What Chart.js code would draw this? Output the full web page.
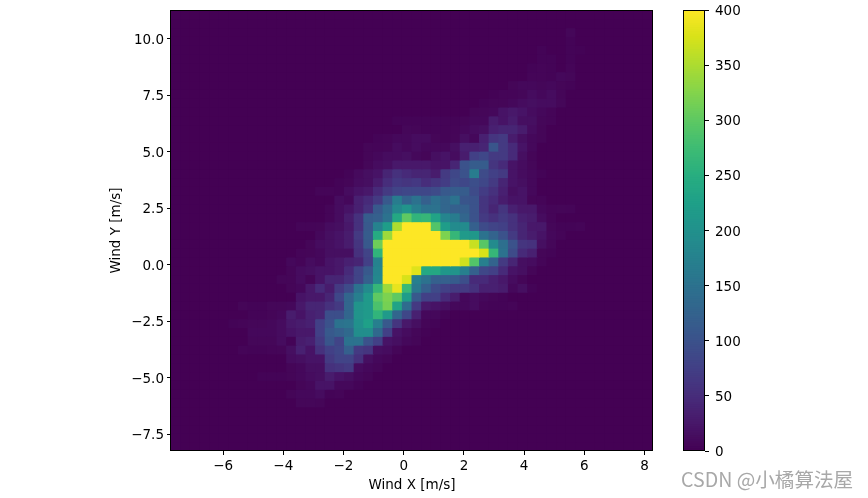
<!DOCTYPE html>
<html>
<head>
<meta charset="utf-8">
<script src="https://cdn.jsdelivr.net/npm/chart.js@4/dist/chart.umd.js"></script>
<style>
html,body{margin:0;padding:0;background:#fff;width:868px;height:498px;overflow:hidden}
canvas{position:absolute;display:block}
#mark{position:absolute;left:681px;top:464px;font:19.6px "Noto Sans CJK SC","DejaVu Sans",sans-serif;color:#a8a8a8;white-space:nowrap;letter-spacing:0}
</style>
</head>
<body>
<canvas id="main" style="left:0;top:0"></canvas>
<canvas id="bar" style="left:680px;top:0"></canvas>
<div id="mark">CSDN @小橘算法屋</div>
<script>
const xLabel = "Wind X [m/s]";
const yLabel = "Wind Y [m/s]";
const xTicks = [-6,-4,-2,0,2,4,6,8];
const yTicks = [-7.5,-5,-2.5,0,2.5,5,7.5,10];
const barTicks = [0,50,100,150,200,250,300,350,400];
const xRange = [-7.73,8.28];
const yRange = [-8.25,11.28];
const binCount = 50;
const vMax = 400;
const viridis = ["#440154","#48186a","#472d7b","#424086","#3b528b","#33638d","#2c728e","#26828e","#21918c","#1fa088","#28ae80","#3fbc73","#5ec962","#84d44b","#addc30","#d8e219","#fde725"];

// first non-empty column of each row, listed from the top row of the picture down
const rowStart = [0,0,41,41,38,38,37,37,35,33,32,31,23,24,21,20,20,20,18,17,15,17,16,16,13,15,14,13,12,12,11,12,13,7,8,6,8,8,7,12,12,9,13,12,13,0,0,0,0,0];
const rowValues = [
[],
[],
[6],
[3],
[3,0,0,3,2],
[3,3,0,3],
[3,4,3,0,4],
[4,4,3,8,6],
[5,8,8,6,8,5,3],
[2,4,4,6,12,8,12,5],
[3,5,5,8,12,15,12,12,6],
[5,6,8,20,25,20,12,8,4],
[3,3,3,3,3,3,3,5,8,8,30,20,30,15,15,6,4],
[6,5,3,3,3,4,8,12,15,35,40,40,30,12,5],
[3,4,8,8,12,12,5,3,5,15,8,35,60,67,30,15,8,5],
[5,4,5,12,8,12,8,8,8,15,35,35,40,105,67,47,20,8],
[5,8,12,12,15,8,5,15,20,12,30,75,85,67,67,47,15,5],
[6,12,15,25,25,25,25,20,20,40,100,115,115,60,47,20,12,6],
[3,10,15,20,40,55,47,40,40,30,67,85,100,165,90,75,67,20,12,8,3],
[3,5,12,15,30,50,65,60,65,50,60,70,90,85,95,85,67,40,20,15,8],
[4,4,3,12,20,25,47,67,80,85,85,85,90,110,115,115,90,70,55,35,15,20,8],
[12,8,35,47,67,110,165,125,150,120,145,130,150,105,100,60,47,30,20,20,5,4],
[4,12,20,35,55,110,140,185,205,170,150,150,130,120,120,100,60,40,60,35,25,25,8,4,5,4],
[4,12,30,55,115,120,150,240,300,260,265,230,180,165,130,100,67,55,67,55,35,30,12,4],
[4,4,5,12,15,25,55,110,175,220,350,400,400,400,290,220,190,190,120,90,80,75,55,40,25,25,6,3,3,4],
[8,15,20,30,67,115,245,340,400,400,400,400,400,320,265,215,210,150,125,100,67,40,30,20,8,4],
[5,12,15,20,30,60,110,310,400,400,400,400,400,400,400,400,400,365,295,190,145,100,60,55,15,6],
[4,5,8,15,15,15,55,80,260,400,400,400,400,400,400,400,400,400,400,375,265,150,90,47,35,5,3],
[8,4,12,8,20,25,35,40,75,175,400,400,400,400,400,400,400,400,370,290,170,125,67,40,15,12,4],
[5,12,15,20,20,25,47,80,110,180,400,400,400,380,240,240,210,205,170,120,85,75,47,20,15,5],
[5,5,12,5,20,40,40,55,80,120,185,400,400,375,170,150,120,120,115,95,47,47,35,25,12,5],
[5,8,25,47,30,67,90,150,190,265,340,385,270,160,120,90,75,67,67,55,35,35,30,8,15,3],
[20,25,25,40,85,130,170,215,300,320,300,220,110,75,75,47,30,8,12,8,5,3],
[5,3,3,6,6,8,25,40,40,55,67,130,205,215,285,315,230,140,67,25,20,15,8,8,12,4,3,3,4],
[3,3,5,8,30,20,35,40,95,95,130,205,215,260,215,130,85,35,8,8,3],
[3,4,6,6,8,12,25,30,35,75,100,150,155,200,225,170,110,60,25,15,5,3],
[8,8,8,12,20,25,25,75,110,120,135,195,195,135,75,20,12,6,2],
[6,6,6,12,3,30,35,67,105,80,150,150,100,75,20,15,8,5],
[4,3,3,4,5,15,35,20,55,75,85,120,67,60,15,12,5],
[12,15,20,20,67,80,80,55,15,8,5],
[5,8,15,15,55,60,67,12,8,5],
[3,3,3,5,8,12,15,30,20,15,8,5],
[5,8,20,20,8,8,3],
[5,8,8,12,3,4],
[6,6,5],
[],[],[],[],[]
];

const font = {family:'"DejaVu Sans"', size:13.5};
const tickFontY = {family:'"DejaVu Sans"', size:13.5, lineHeight:"3px"};
const ink = "#000";

function colorFor(v){
  const t = Math.max(0,Math.min(1,v/vMax))*(viridis.length-1);
  const a = Math.min(viridis.length-2,Math.floor(t)), f = t-a;
  const p = h=>[1,3,5].map(k=>parseInt(h.substr(k,2),16));
  const c0 = p(viridis[a]), c1 = p(viridis[a+1]);
  return "rgb("+c0.map((c,k)=>Math.round(c+(c1[k]-c)*f)).join(",")+")";
}
function cellValue(r,c){
  const o = c-rowStart[r], vals = rowValues[r];
  return o>=0 && o<vals.length ? vals[o] : 0;
}
const fmt = v=>String(v).replace("-","\u2212");
const fmtY = v=>["",fmt(Number(v).toFixed(1))];
const fitBox = (s,w,h)=>{
  if(w) s.width=w;
  if(h) s.height=h;
  s.paddingTop=0;s.paddingBottom=0;s.paddingLeft=0;s.paddingRight=0;
};
const frame = {id:"frame",afterDatasetsDraw(c){
  const a=c.chartArea,g=c.ctx;
  g.save();g.strokeStyle=ink;g.lineWidth=1;
  g.strokeRect(Math.round(a.left)-.5,Math.round(a.top)+.5,Math.round(a.right-a.left),Math.round(a.bottom-a.top)-1);
  g.restore();
}};

const dx=(xRange[1]-xRange[0])/binCount, dy=(yRange[1]-yRange[0])/binCount;
const cols=[...Array(binCount).keys()];
const datasets=cols.map(r=>({
  data:cols.map(c=>({x:xRange[0]+(c+.5)*dx,y:[yRange[1]-(r+1)*dy,yRange[1]-r*dy]})),
  backgroundColor:cols.map(c=>colorFor(cellValue(r,c))),
  borderWidth:0,inflateAmount:.5,grouped:false,barPercentage:1,categoryPercentage:1
}));

const mainCanvas=document.getElementById("main");
mainCanvas.style.width="868px";mainCanvas.style.height="498px";
mainCanvas.width=868;mainCanvas.height=498;
new Chart(mainCanvas,{
  type:"bar",
  data:{datasets},
  plugins:[frame],
  options:{
    responsive:false,animation:false,devicePixelRatio:1,
    layout:{padding:{left:106,right:215,top:10,bottom:2}},
    plugins:{legend:{display:false},tooltip:{enabled:false}},
    events:[],
    scales:{
      x:{type:"linear",offset:false,min:xRange[0],max:xRange[1],
        afterBuildTicks(s){s.ticks=xTicks.map(value=>({value}))},
        afterFit(s){fitBox(s,0,45)},
        grid:{offset:false,drawOnChartArea:false,tickLength:4,tickColor:ink,tickWidth:1},
        border:{display:false},
        ticks:{color:ink,font,maxRotation:0,autoSkip:false,padding:3,callback:fmt},
        title:{display:true,text:xLabel,color:ink,font,padding:{top:2,bottom:2}}},
      y:{type:"linear",min:yRange[0],max:yRange[1],
        afterBuildTicks(s){s.ticks=yTicks.map(value=>({value}))},
        afterFit(s){fitBox(s,65,0)},
        grid:{drawOnChartArea:false,tickLength:4,tickColor:ink,tickWidth:1},
        border:{display:false},
        ticks:{color:ink,font:tickFontY,autoSkip:false,padding:3,callback:fmtY},
        title:{display:true,text:yLabel,color:ink,font,padding:{top:2,bottom:2}}}
    }
  }
});

const levels=[...Array(200).keys()].map(k=>k*2);
const barCanvas=document.getElementById("bar");
barCanvas.width=80;barCanvas.height=498;
barCanvas.style.width="80px";barCanvas.style.height="498px";
new Chart(barCanvas,{
  type:"bar",
  data:{labels:["c"],datasets:levels.map(v=>({
    data:[{x:"c",y:[v,v+2]}],backgroundColor:colorFor(v+1),borderWidth:0,inflateAmount:.5,grouped:false,barPercentage:1,categoryPercentage:1
  }))},
  plugins:[frame],
  options:{
    responsive:false,animation:false,devicePixelRatio:1,
    layout:{padding:{left:4,right:0,top:10,bottom:47}},
    plugins:{legend:{display:false},tooltip:{enabled:false}},
    events:[],
    scales:{
      x:{display:false},
      y:{position:"right",min:0,max:vMax,
        afterBuildTicks(s){s.ticks=barTicks.map(value=>({value}))},
        afterFit(s){fitBox(s,55,0)},
        grid:{drawOnChartArea:false,tickLength:4,tickColor:ink,tickWidth:1},
        border:{display:false},
        ticks:{color:ink,font:tickFontY,autoSkip:false,padding:6,callback:v=>["",String(v)]}}
    }
  }
});
</script>
</body>
</html>
